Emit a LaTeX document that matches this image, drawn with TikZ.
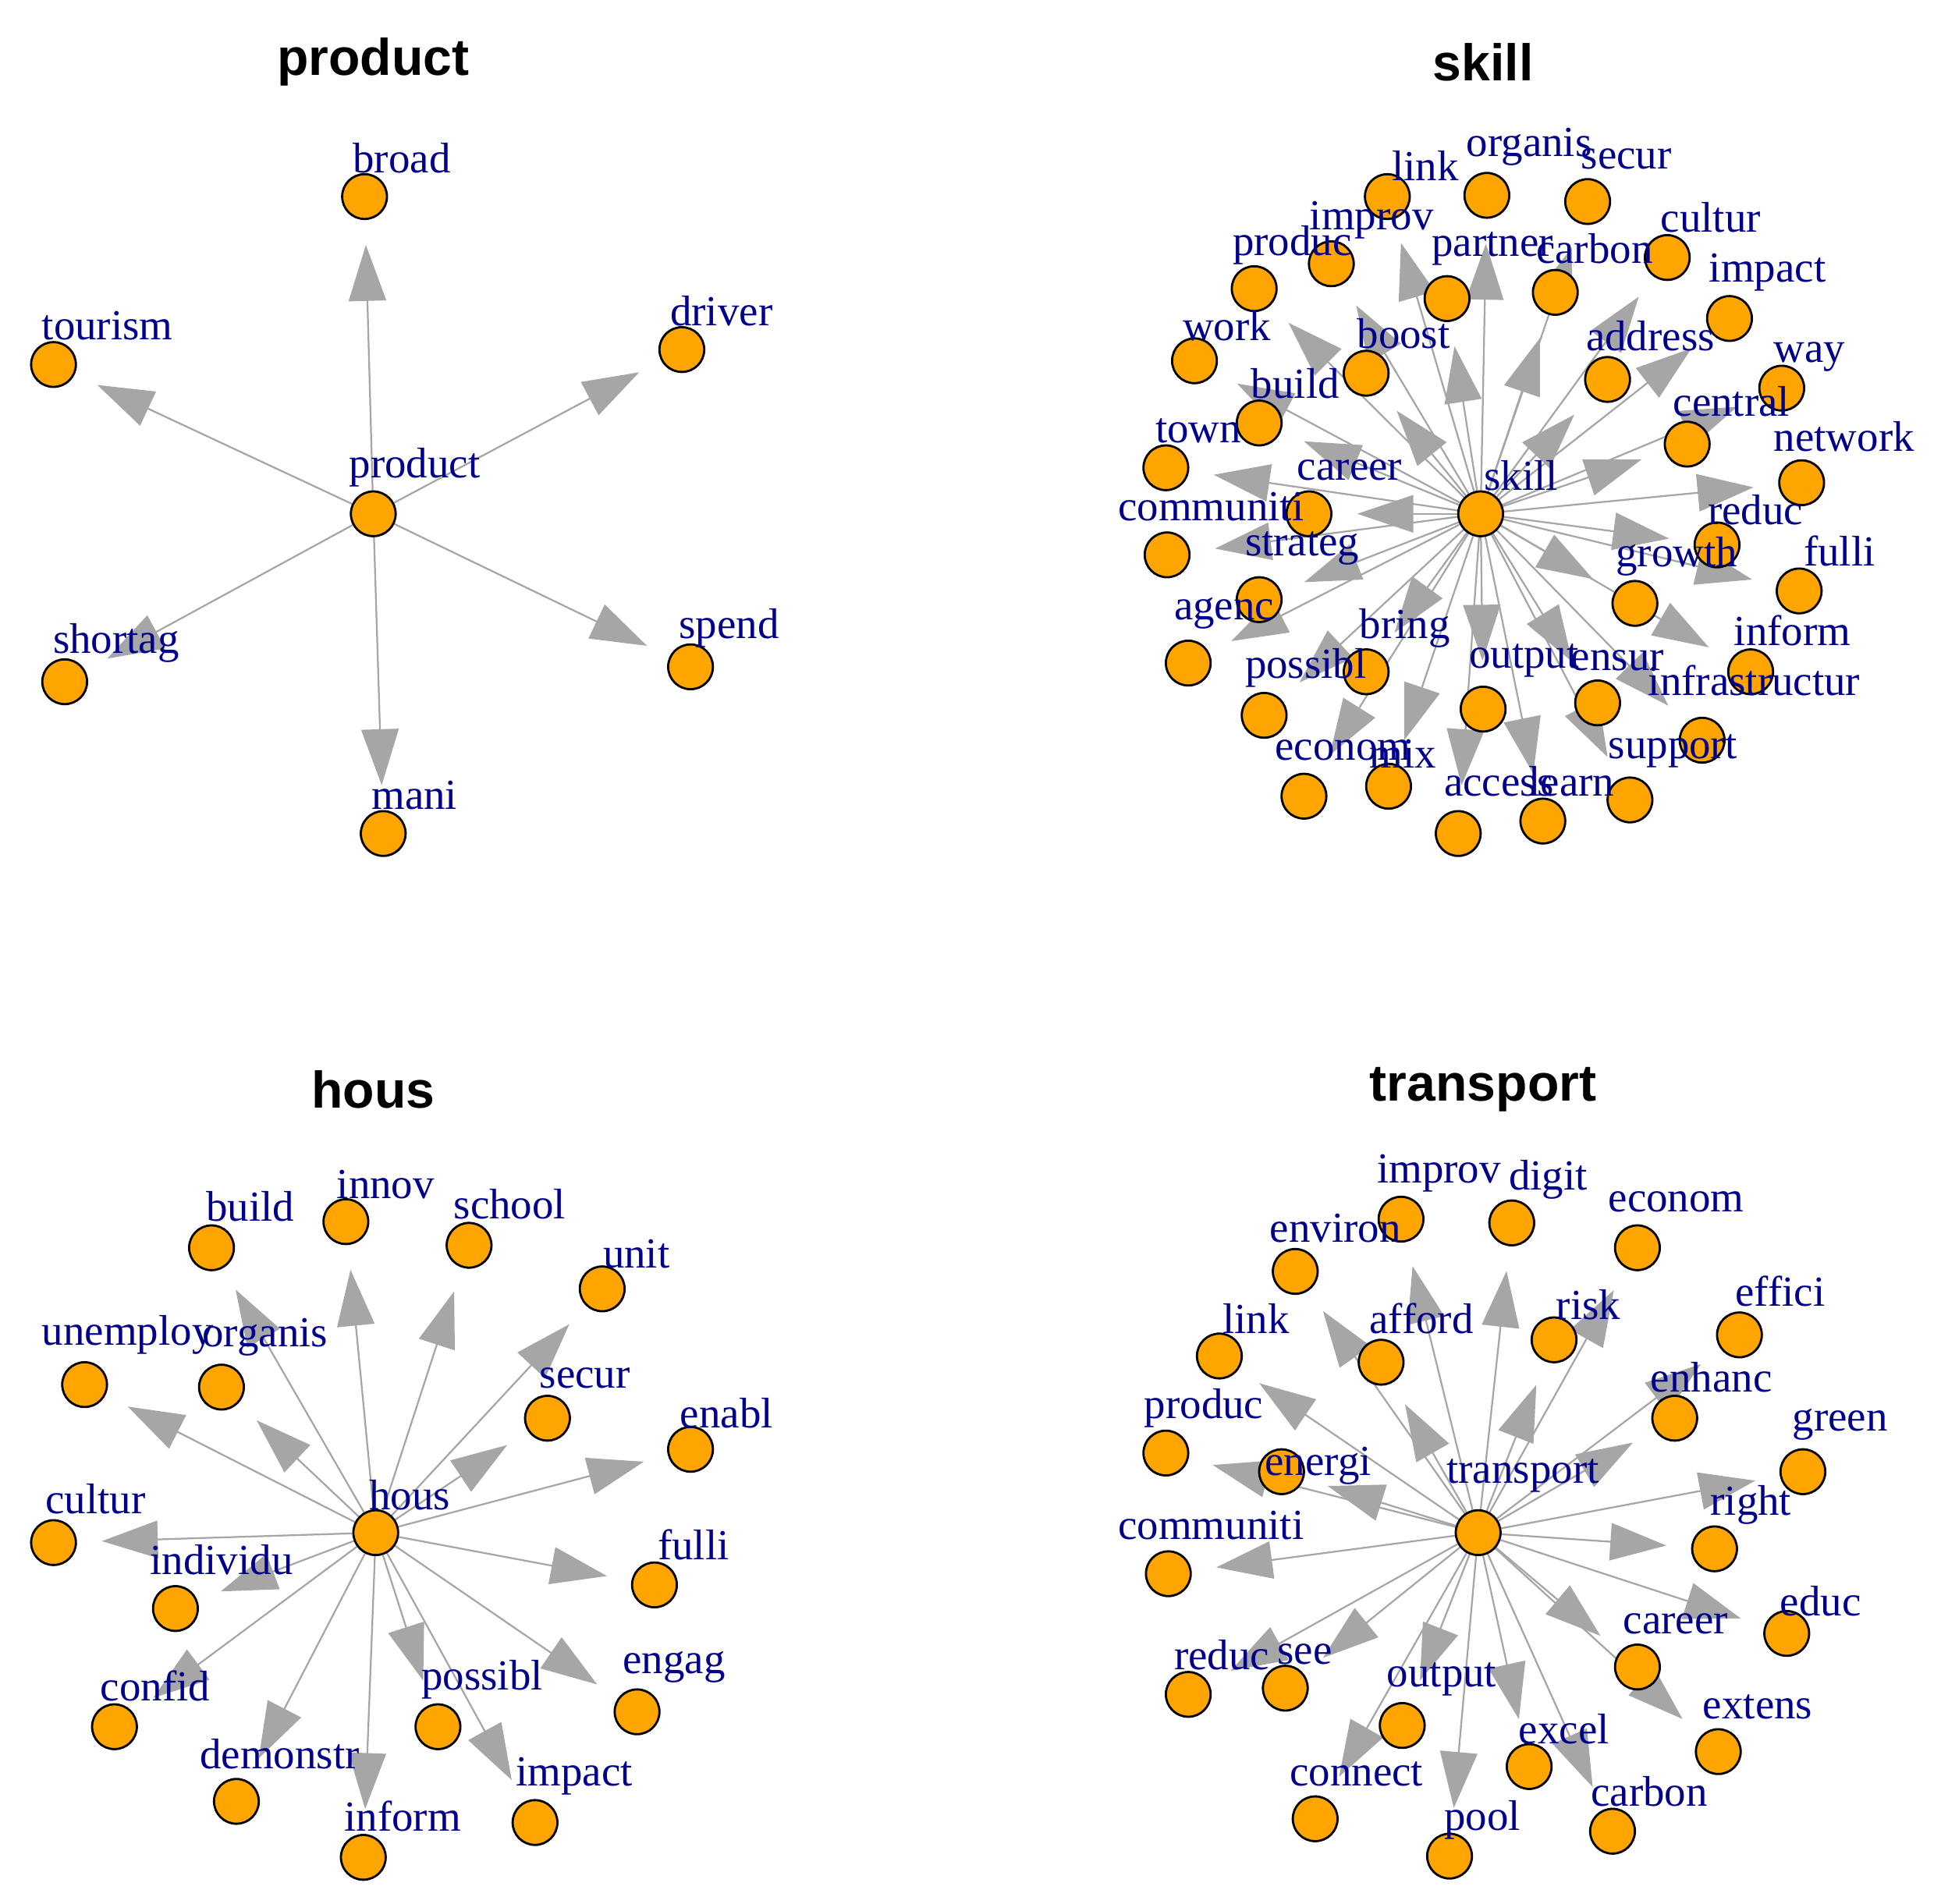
\documentclass[tikz,border=0pt]{standalone}
\usepackage{fontspec}
\setmainfont{Liberation Serif}
\newfontfamily\titlefont{Liberation Sans}
\usetikzlibrary{arrows.meta,backgrounds}
\definecolor{lblblue}{RGB}{0,0,139}
\definecolor{vorange}{RGB}{255,165,0}
\tikzset{
 vtx/.style={circle,draw=black,fill=vorange,minimum size=0.36cm,inner sep=0pt,line width=0.5pt},
 lbl/.style={anchor=west,inner sep=0pt,text=lblblue,font=\fontsize{9.8}{10}\selectfont},
 ttl/.style={font=\titlefont\bfseries\fontsize{11.8}{12}\selectfont},
 edge/.style={draw=gray!70,line width=0.4pt,-{Triangle[length=0.45cm,width=0.3cm]},color=gray!70,shorten >=0.2cm}
}
\begin{document}
\begin{tikzpicture}[x=0.1mm,y=-0.1mm]
\useasboundingbox (0,0) rectangle (1560,1530);
% titles
\node[ttl] (t1) at (300,50) {product};
\node[ttl] (t2) at (1192,50) {skill};
\node[ttl] (t3) at (300,876) {hous};
\node[ttl] (t4) at (1192,876) {transport};
% product
\node[vtx] (Ac) at (300,413) {};
\node[lbl] (ALc) at (280,376) {product};
\foreach \n/\x/\y/\t in {1/293/158/broad,2/43/293/tourism,3/548/281/driver,4/52/548/shortag,5/555/536/spend,6/308/670/mani}{
 \node[vtx] (A\n) at (\x,\y) {};
 \node[lbl] (AL\n) at (\x-10,\y-31) {\t};
}
\begin{scope}[on background layer]
\foreach \n in {1,...,6} \draw[edge] (Ac) -- (A\n);
\end{scope}
% skill
\node[vtx] (Bc) at (1190,413) {};
\node[lbl] (BLc) at (1192,382) {skill};
\foreach \n/\x/\y/\t in {1/1115/158/link,2/1195/157/organis,3/1276/162/secur,4/1070/212/improv,5/1008/232/produc,6/1163/240/partner,7/1250/235/carbon,8/1340/207/cultur,9/1390/256/impact,10/960/290/work,11/1098/300/boost,12/1292/305/address,13/1432/312/way,14/1012/340/build,15/1356/357/central,16/937/376/town,17/1052/413/career,18/938/446/communiti,19/1448/388/network,20/1380/438/reduc,21/1446/475/fulli,22/1314/485/growth,23/1012/482/strateg,24/955/533/agenc,25/1098/540/bring,26/1016/575/possibl,27/1192/570/output,28/1284/565/ensur,29/1407/540/inform,30/1368/595/infrastructur,31/1048/640/econom,32/1116/632/mix,33/1172/670/access,34/1240/660/learn,35/1310/643/support}{
 \node[vtx] (B\n) at (\x,\y) {};
}
\foreach \n/\x/\y/\t in {1/1118/133/link,2/1178/118/organis,3/1270/128/secur,4/1052/177/improv,5/990/197/produc,6/1150/200/partner,7/1234/200/carbon,8/1334/175/cultur,9/1373/219/impact,10/950/262/work,11/1090/268/boost,12/1274/270/address,13/1425/287/way,14/1005/308/build,15/1344/323/central,16/928/346/town,17/1042/378/career,18/898/407/communiti,19/1425/351/network,20/1372/410/reduc,21/1449/443/fulli,22/1298/447/growth,23/1000/441/strateg,24/943/493/agenc,25/1092/505/bring,26/1000/537/possibl,27/1180/531/output,28/1262/531/ensur,29/1393/507/inform,30/1324/547/infrastructur,31/1024/603/econom,32/1100/606/mix,33/1160/632/access,34/1228/628/learn,35/1292/604/support}{
 \node[lbl] (BL\n) at (\x,\y) {\t};
}
\begin{scope}[on background layer]
\foreach \n in {1,...,35} \draw[edge] (Bc) -- (B\n);
\end{scope}
% hous
\node[vtx] (Cc) at (302,1232) {};
\node[lbl] (CLc) at (296,1202) {hous};
\foreach \n/\x/\y/\t in {1/170/1003/build,2/278/982/innov,3/377/1001/school,4/484/1036/unit,5/68/1113/unemploy,6/178/1115/organis,7/440/1140/secur,8/555/1165/enabl,9/43/1240/cultur,10/141/1293/individu,11/526/1274/fulli,12/92/1388/confid,13/352/1388/possibl,14/512/1376/engag,15/190/1448/demonstr,16/430/1465/impact,17/292/1493/inform}{
 \node[vtx] (C\n) at (\x,\y) {};
}
\foreach \n/\x/\y/\t in {1/165/970/build,2/270/952/innov,3/364/968/school,4/484/1008/unit,5/33/1073/unemploy,6/162/1075/organis,7/433/1108/secur,8/546/1136/enabl,9/36/1205/cultur,10/120/1254/individu,11/528/1242/fulli,12/80/1355/confid,13/338/1350/possibl,14/500/1340/engag,15/160/1410/demonstr,16/414/1428/impact,17/276/1460/inform}{
 \node[lbl] (CL\n) at (\x,\y) {\t};
}
\begin{scope}[on background layer]
\foreach \n in {1,...,17} \draw[edge] (Cc) -- (C\n);
\end{scope}
% transport
\node[vtx] (Dc) at (1188,1232) {};
\node[lbl] (DLc) at (1162,1186) {transport};
\foreach \n/\x/\y/\t in {1/1126/980/improv,2/1215/983/digit,3/1316/1003/econom,4/1041/1022/environ,5/980/1090/link,6/1110/1095/afford,7/1249/1077/risk,8/1398/1073/effici,9/1346/1140/enhanc,10/937/1168/produc,11/1030/1183/energi,12/1449/1183/green,13/939/1265/communiti,14/1378/1245/right,15/1436/1313/educ,16/1316/1340/career,17/955/1362/reduc,18/1033/1357/see,19/1127/1387/output,20/1229/1420/excel,21/1381/1408/extens,22/1057/1462/connect,23/1296/1472/carbon,24/1165/1492/pool}{
 \node[vtx] (D\n) at (\x,\y) {};
}
\foreach \n/\x/\y/\t in {1/1106/943/improv,2/1212/948/digit,3/1292/966/econom,4/1020/987/environ,5/982/1060/link,6/1100/1060/afford,7/1250/1049/risk,8/1394/1038/effici,9/1326/1107/enhanc,10/919/1132/produc,11/1016/1178/energi,12/1440/1145/green,13/898/1226/communiti,14/1374/1210/right,15/1430/1287/educ,16/1304/1305/career,17/943/1330/reduc,18/1026/1330/see,19/1114/1350/output,20/1220/1390/excel,21/1368/1372/extens,22/1036/1426/connect,23/1278/1440/carbon,24/1160/1463/pool}{
 \node[lbl] (DL\n) at (\x,\y) {\t};
}
\begin{scope}[on background layer]
\foreach \n in {1,...,24} \draw[edge] (Dc) -- (D\n);
\end{scope}
\end{tikzpicture}
\end{document}
